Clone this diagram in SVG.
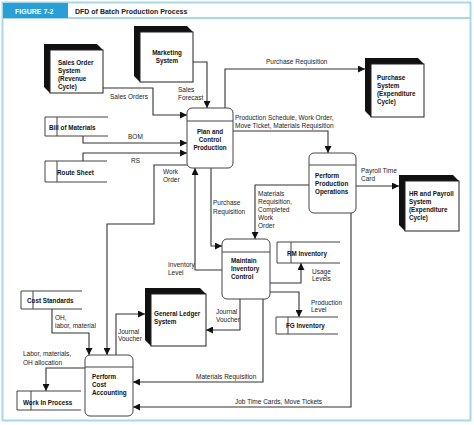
<svg xmlns="http://www.w3.org/2000/svg" width="474" height="425" viewBox="0 0 474 425">
<defs>
<marker id="ah" markerUnits="userSpaceOnUse" markerWidth="7" markerHeight="7" refX="7" refY="3.5" orient="auto"><path d="M0,0 L7,3.5 L0,7 z" fill="#111"/></marker>
<style>
.frame{fill:none;stroke:#a6d9e8;stroke-width:2}
.ent{fill:#fff;stroke:#222;stroke-width:1}
.sh{fill:#111}
.proc{fill:#fff;stroke:#444;stroke-width:1}
.store{fill:none;stroke:#444;stroke-width:1}
.c{fill:none;stroke:#333;stroke-width:1.1;marker-end:url(#ah)}
.n{font-family:"Liberation Sans",Arial,sans-serif;font-size:6.3px;font-weight:bold;fill:#111}
.l{font-family:"Liberation Sans",Arial,sans-serif;font-size:6.5px;fill:#222}
.ht{font-family:"Liberation Sans",Arial,sans-serif;font-size:7px;font-weight:bold}
</style>
</defs>
<rect width="474" height="425" fill="#fff"/>
<rect class="frame" x="2.5" y="2.5" width="468" height="418"/>
<line class="frame" x1="2.5" y1="18" x2="470.5" y2="18"/>
<rect x="3" y="3" width="65" height="15" fill="#2a9fd6"/>
<text class="ht" x="15" y="13.5" fill="#fff">FIGURE 7-2</text>
<text class="ht" x="75" y="13.5" fill="#222">DFD of Batch Production Process</text>

<g id="connectors">
<path class="c" d="M103,88 H153 V115 H187"/>
<path class="c" d="M193,62 H207 V108"/>
<path class="c" d="M225,108 V69 H365"/>
<path class="c" d="M83,136 V143 H187"/>
<path class="c" d="M83,161 V153 H187"/>
<path class="c" d="M187,165 H154 V224 H107 V355"/>
<path class="c" d="M233,131 H328 V153"/>
<path class="c" d="M222,270 H195 V168"/>
<path class="c" d="M211,168 V246 H222"/>
<path class="c" d="M309,185 H255 V239"/>
<path class="c" d="M356,186 H399"/>
<path class="c" d="M270,283 H301 V263"/>
<path class="c" d="M270,292 H299 V317"/>
<path class="c" d="M240,299 V330 H206"/>
<path class="c" d="M263,299 V382 H133"/>
<path class="c" d="M351,213 V407 H133"/>
<path class="c" d="M116,355 V314 H145"/>
<path class="c" d="M52,309 V333 H89 V355"/>
<path class="c" d="M85,368 H46 V391"/>
<text class="l" x="110" y="99">Sales Orders</text>
<text class="l" x="178" y="92">Sales</text>
<text class="l" x="178" y="100">Forecast</text>
<text class="l" x="266" y="64">Purchase Requisition</text>
<text class="l" x="128" y="139">BOM</text>
<text class="l" x="131" y="163">RS</text>
<text class="l" x="163" y="174">Work</text>
<text class="l" x="163" y="182">Order</text>
<text class="l" x="235" y="120">Production Schedule, Work Order,</text>
<text class="l" x="235" y="128">Move Ticket, Materials Requisition</text>
<text class="l" x="361" y="173">Payroll Time</text>
<text class="l" x="361" y="181">Card</text>
<text class="l" x="213" y="205">Purchase</text>
<text class="l" x="213" y="214">Requisition</text>
<text class="l" x="258" y="196">Materials</text>
<text class="l" x="258" y="204">Requisition,</text>
<text class="l" x="258" y="212">Completed</text>
<text class="l" x="258" y="220">Work</text>
<text class="l" x="258" y="228">Order</text>
<text class="l" x="168" y="267">Inventory</text>
<text class="l" x="168" y="275">Level</text>
<text class="l" x="312" y="274">Usage</text>
<text class="l" x="312" y="281">Levels</text>
<text class="l" x="311" y="305">Production</text>
<text class="l" x="311" y="312">Level</text>
<text class="l" x="216" y="314">Journal</text>
<text class="l" x="216" y="322">Voucher</text>
<text class="l" x="118" y="334">Journal</text>
<text class="l" x="118" y="341">Voucher</text>
<text class="l" x="55" y="320">OH,</text>
<text class="l" x="55" y="328">labor, material</text>
<text class="l" x="23" y="356">Labor, materials,</text>
<text class="l" x="23" y="365">OH allocation</text>
<text class="l" x="196" y="379">Materials Requisition</text>
<text class="l" x="235" y="404">Job Time Cards, Move Tickets</text>
</g>

<g id="sales-order-system">
<polygon class="sh" points="44,44 97,44 103,50 50,50 50,93 44,87"/>
<rect class="ent" x="50" y="50" width="53" height="43"/>
<text class="n" x="58" y="65">Sales Order</text>
<text class="n" x="58" y="73">System</text>
<text class="n" x="58" y="81">(Revenue</text>
<text class="n" x="58" y="89">Cycle)</text>
</g>
<g id="marketing-system">
<polygon class="sh" points="134,26 187,26 193,32 140,32 140,82 134,76"/>
<rect class="ent" x="140" y="32" width="53" height="50"/>
<text class="n" x="167" y="55" text-anchor="middle">Marketing</text>
<text class="n" x="167" y="63" text-anchor="middle">System</text>
</g>
<g id="purchase-system">
<polygon class="sh" points="365,58 418,58 424,64 371,64 371,117 365,111"/>
<rect class="ent" x="371" y="64" width="53" height="53"/>
<text class="n" x="377" y="80">Purchase</text>
<text class="n" x="377" y="88">System</text>
<text class="n" x="377" y="96">(Expenditure</text>
<text class="n" x="377" y="104">Cycle)</text>
</g>
<g id="hr-payroll-system">
<polygon class="sh" points="399,175 453,175 459,181 405,181 405,231 399,225"/>
<rect class="ent" x="405" y="181" width="54" height="50"/>
<text class="n" x="409" y="196">HR and Payroll</text>
<text class="n" x="409" y="204">System</text>
<text class="n" x="409" y="212">(Expenditure</text>
<text class="n" x="409" y="220">Cycle)</text>
</g>
<g id="general-ledger-system">
<polygon class="sh" points="145,288 200,288 206,294 151,294 151,346 145,340"/>
<rect class="ent" x="151" y="294" width="55" height="52"/>
<text class="n" x="154" y="316">General Ledger</text>
<text class="n" x="154" y="324">System</text>
</g>

<g id="plan-control-production">
<rect class="proc" x="187" y="108" width="46" height="60" rx="5"/>
<line class="proc" x1="187" y1="121" x2="233" y2="121"/>
<text class="n" x="210" y="134" text-anchor="middle">Plan and</text>
<text class="n" x="210" y="142" text-anchor="middle">Control</text>
<text class="n" x="210" y="150" text-anchor="middle">Production</text>
</g>
<g id="perform-production-operations">
<rect class="proc" x="309" y="153" width="47" height="60" rx="5"/>
<line class="proc" x1="309" y1="165" x2="356" y2="165"/>
<text class="n" x="315" y="178">Perform</text>
<text class="n" x="315" y="186">Production</text>
<text class="n" x="315" y="194">Operations</text>
</g>
<g id="maintain-inventory-control">
<rect class="proc" x="222" y="239" width="48" height="60" rx="5"/>
<line class="proc" x1="222" y1="252" x2="270" y2="252"/>
<text class="n" x="231" y="263">Maintain</text>
<text class="n" x="231" y="271">Inventory</text>
<text class="n" x="231" y="279">Control</text>
</g>
<g id="perform-cost-accounting">
<rect class="proc" x="85" y="355" width="48" height="61" rx="5"/>
<line class="proc" x1="85" y1="367" x2="133" y2="367"/>
<text class="n" x="92" y="379">Perform</text>
<text class="n" x="92" y="387">Cost</text>
<text class="n" x="92" y="395">Accounting</text>
</g>

<g id="bill-of-materials">
<path class="store" d="M108,117 H45 V136 H108 M57,117 V136"/>
<text class="n" x="49" y="130">Bill of Materials</text>
</g>
<g id="route-sheet">
<path class="store" d="M107,161 H45 V182 H107 M57,161 V182"/>
<text class="n" x="57" y="175">Route Sheet</text>
</g>
<g id="rm-inventory">
<path class="store" d="M340,242 H277 V263 H340 M291,242 V263"/>
<text class="n" x="287" y="256">RM Inventory</text>
</g>
<g id="fg-inventory">
<path class="store" d="M338,317 H276 V334 H338 M288,317 V334"/>
<text class="n" x="286" y="328">FG Inventory</text>
</g>
<g id="cost-standards">
<path class="store" d="M82,291 H21 V309 H82 M33,291 V309"/>
<text class="n" x="27" y="303">Cost Standards</text>
</g>
<g id="work-in-process">
<path class="store" d="M81,391 H17 V410 H81 M31,391 V410"/>
<text class="n" x="23" y="405">Work In Process</text>
</g>
</svg>
